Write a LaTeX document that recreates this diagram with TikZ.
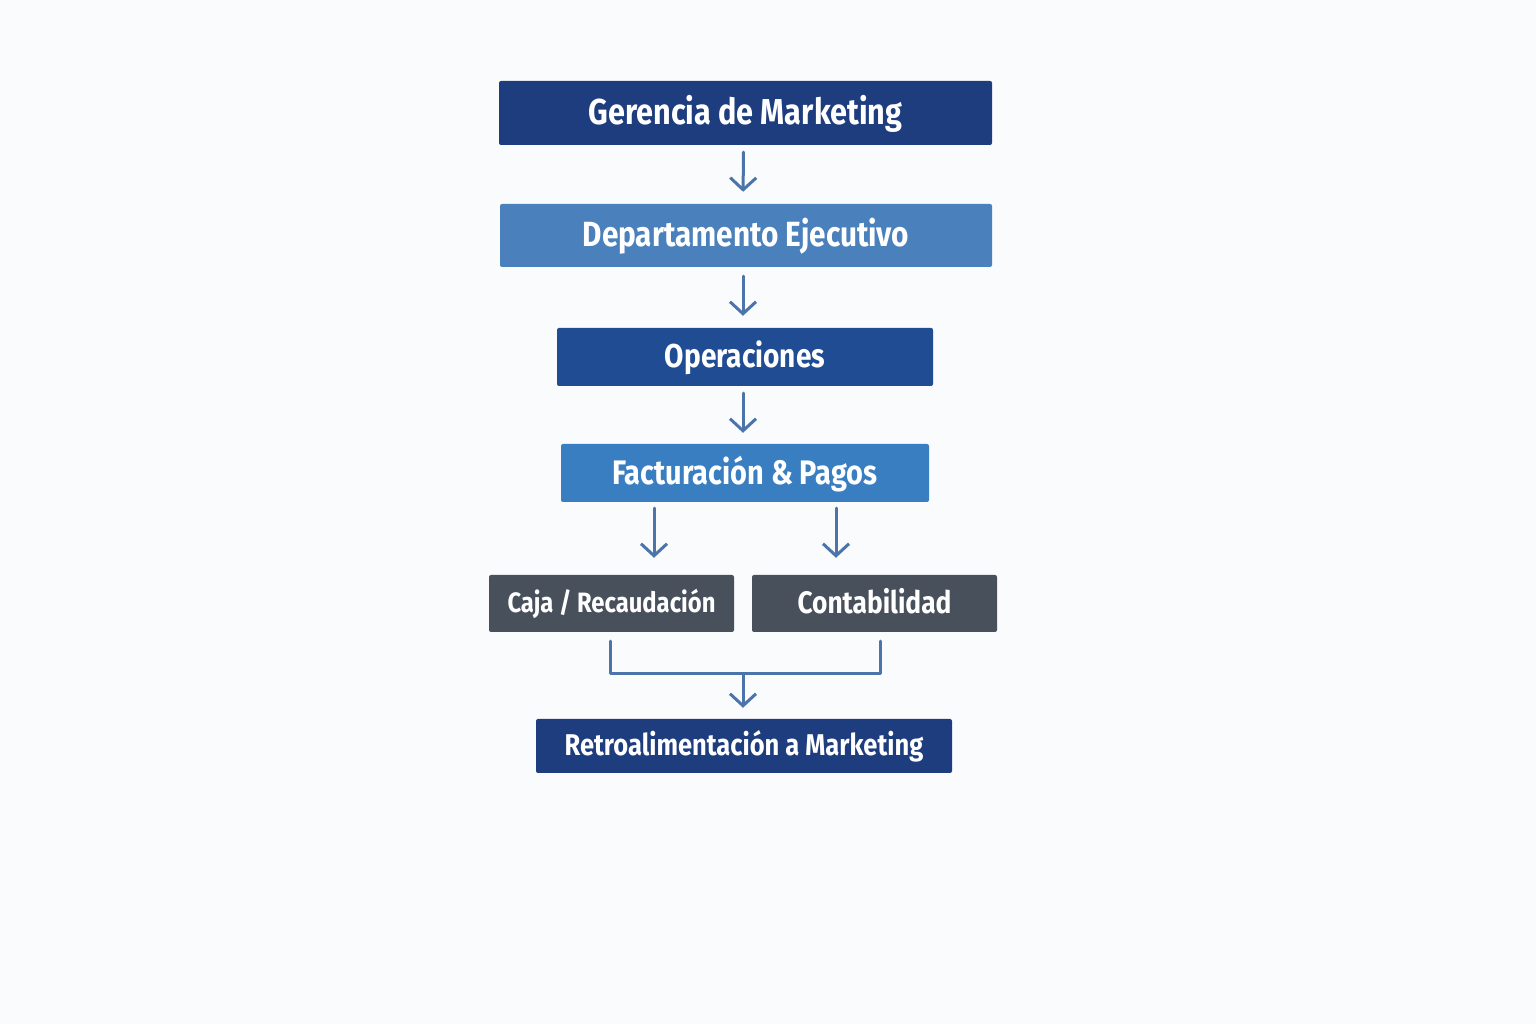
\documentclass[tikz,border=0pt]{standalone}
\usepackage{fontspec}
\setmainfont{Fira Sans}[FakeStretch=0.85]
\usetikzlibrary{arrows.meta, calc, positioning}
\definecolor{bgpaper}{RGB}{250,251,253}
\definecolor{navy}{RGB}{30,61,126}
\definecolor{steel}{RGB}{74,128,187}
\definecolor{royal}{RGB}{31,76,147}
\definecolor{azure}{RGB}{58,126,194}
\definecolor{slate}{RGB}{72,80,91}
\definecolor{linkblue}{RGB}{75,117,170}
\tikzset{
  >={Straight Barb[length=12pt, width=26pt]},
  every picture/.style={line cap=round, line join=round},
  box/.style={rectangle, rounded corners=2pt, text=white, font=\bfseries,
    inner sep=0pt, align=center},
  link/.style={linkblue, line width=3pt},
  flow/.style={link, ->},
}
\begin{document}
\begin{tikzpicture}[x=1pt, y=1pt]
  \fill[bgpaper] (0,0) rectangle (1536,1024);
  \useasboundingbox (0,0) rectangle (1536,1024);
  % chain of boxes
  \node[box, fill=navy, minimum width=493pt, minimum height=64pt, text height=27pt, text depth=3.6pt,
    font=\bfseries\fontsize{36}{40}\selectfont] (gerencia) at (745.5,911) {Gerencia de Marketing};
  \node[box, fill=steel, minimum width=492pt, minimum height=63pt, text height=26.3pt, text depth=3.5pt,
    font=\bfseries\fontsize{35}{40}\selectfont] (depto) at (746,788.5) {Departamento Ejecutivo};
  \node[box, fill=royal, minimum width=376pt, minimum height=58pt, text height=24.8pt, text depth=3.3pt,
    font=\bfseries\fontsize{33}{37}\selectfont] (oper) at (745,667) {Operaciones};
  \node[box, fill=azure, minimum width=368pt, minimum height=58pt, text height=25.5pt, text depth=3.4pt,
    font=\bfseries\fontsize{34}{38}\selectfont] (factura) at (745,551) {Facturación \& Pagos};
  \node[box, fill=slate, minimum width=245pt, minimum height=57pt, text height=21pt, text depth=2.8pt,
    font=\bfseries\fontsize{28}{32}\selectfont] (caja) at (611.5,420.5) {Caja / Recaudación};
  \node[box, fill=slate, minimum width=245pt, minimum height=57pt, text height=23.3pt, text depth=3.1pt,
    font=\bfseries\fontsize{31}{35}\selectfont] (contab) at (874.5,420.5) {Contabilidad};
  \node[box, fill=navy, minimum width=416pt, minimum height=54pt, text height=22.5pt, text depth=3pt,
    font=\bfseries\fontsize{30}{34}\selectfont] (retro) at (744,278) {Retroalimentación a Marketing};
  % vertical arrows
  \draw[flow, shorten <=7pt, shorten >=12pt] ([xshift=-2pt]gerencia.south) -- ([xshift=-3pt]depto.north);
  \draw[flow, shorten <=9pt, shorten >=12pt] ([xshift=-3pt]depto.south) -- ([xshift=-2pt]oper.north);
  \draw[flow, shorten <=7pt, shorten >=11pt] ([xshift=-2pt]oper.south) -- ([xshift=-2pt]factura.north);
  % fork to the two offices
  \draw[flow, shorten <=6pt, shorten >=17pt] ([xshift=-91pt]factura.south) -- ([xshift=-91pt]factura.south |- caja.north);
  \draw[flow, shorten <=6pt, shorten >=17pt] ([xshift=91pt]factura.south) -- ([xshift=91pt]factura.south |- contab.north);
  % merge back
  \coordinate (join) at ($(retro.north)+(-1,45)$);
  \draw[link] ([xshift=-1.5pt, yshift=-9pt]caja.south) |- (join) -| ([xshift=5.5pt, yshift=-9pt]contab.south);
  \draw[flow, shorten >=11pt] (join) -- (join |- retro.north);
\end{tikzpicture}
\end{document}
